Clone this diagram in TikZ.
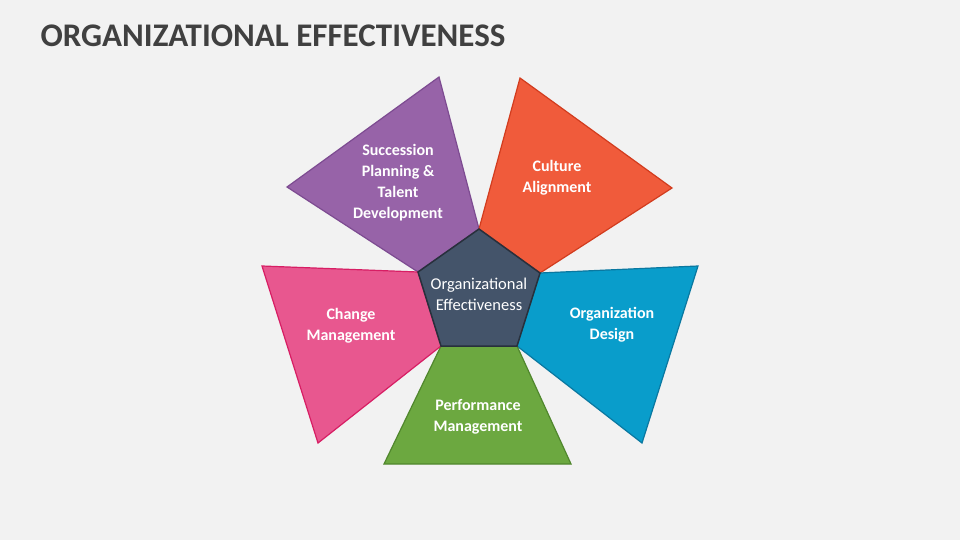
\documentclass[tikz,border=0pt]{standalone}
\usepackage{fontspec}
\setmainfont{Carlito}
\begin{document}
\begin{tikzpicture}[x=1pt,y=-1pt,
  petal/.style={line width=1.2pt,line join=miter},
  lbl/.style={text=white,font=\fontsize{16}{21}\selectfont\bfseries,align=center}]
\useasboundingbox[fill={rgb,255:red,242;green,242;blue,242}] (0,0) rectangle (960,540);
\node[anchor=west,text={rgb,255:red,64;green,64;blue,64},font=\fontsize{33}{36}\selectfont\bfseries] (title) at (37,36) {ORGANIZATIONAL EFFECTIVENESS};
\coordinate (pt) at (479,229); \coordinate (pr) at (540,273); \coordinate (pbr) at (517,346);
\coordinate (pbl) at (441,346); \coordinate (pl) at (418,272);
\filldraw[petal,fill={rgb,255:red,151;green,99;blue,168},draw={rgb,255:red,125;green,75;blue,145}] (439,77) -- (287,187) -- (pl) -- (pt) -- cycle;
\filldraw[petal,fill={rgb,255:red,240;green,91;blue,59},draw={rgb,255:red,210;green,60;blue,30}] (520,78) -- (672,188) -- (pr) -- (pt) -- cycle;
\filldraw[petal,fill={rgb,255:red,9;green,157;blue,203},draw={rgb,255:red,10;green,120;blue,160}] (698,266) -- (642,443) -- (pbr) -- (pr) -- cycle;
\filldraw[petal,fill={rgb,255:red,108;green,168;blue,64},draw={rgb,255:red,80;green,135;blue,45}] (571,464) -- (384,464) -- (pbl) -- (pbr) -- cycle;
\filldraw[petal,fill={rgb,255:red,232;green,87;blue,143},draw={rgb,255:red,215;green,30;blue,100}] (262,266) -- (318,443) -- (pbl) -- (pl) -- cycle;
\filldraw[line width=1.5pt,fill={rgb,255:red,68;green,84;blue,106},draw={rgb,255:red,40;green,48;blue,60}] (pt) -- (pr) -- (pbr) -- (pbl) -- (pl) -- cycle;
\node[lbl] (n1) at (398,183) {Succession\\Planning \&\\Talent\\Development};
\node[lbl] (n2) at (557,178) {Culture\\Alignment};
\node[lbl] (n3) at (612,325) {Organization\\Design};
\node[lbl] (n4) at (478,417) {Performance\\Management};
\node[lbl] (n5) at (351,326) {Change\\Management};
\node[text=white,align=center,font=\fontsize{16.5}{21}\selectfont] (c) at (479,294) {Organizational\\Effectiveness};
\end{tikzpicture}
\end{document}
